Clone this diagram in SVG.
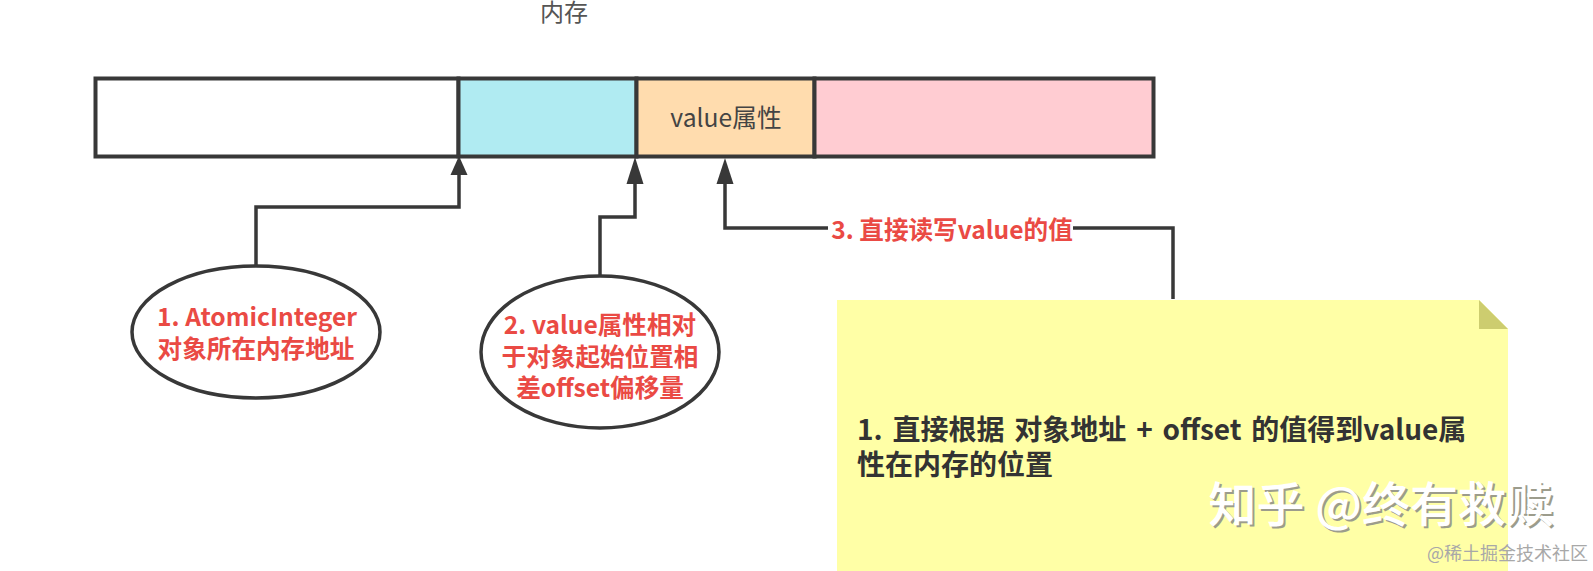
<svg xmlns="http://www.w3.org/2000/svg" width="1593" height="571" viewBox="0 0 1593 571">
<style>
text{font-family:"Noto Sans CJK SC","Noto Sans",sans-serif}
.seg{stroke:#383838;stroke-width:4}
.conn{fill:none;stroke:#383838;stroke-width:3.5}
.head{fill:#383838}
.ell{fill:#fff;stroke:#383838;stroke-width:3.5}
.red{fill:#ea4a44;font-weight:700;font-size:24.600px;text-anchor:middle}
.note{fill:#333;font-weight:700;font-size:28px;word-spacing:3.500px}
</style>
<rect width="1593" height="571" fill="#fff"/>
<g id="memory-label"><text x="564" y="21" font-size="24" fill="#555" text-anchor="middle">内存</text></g>
<g id="cell-1"><rect class="seg" x="95.500" y="78.500" width="363" height="78" fill="#fff"/></g>
<g id="cell-2"><rect class="seg" x="458.500" y="78.500" width="178" height="78" fill="#b0ebf2"/></g>
<g id="cell-3"><rect class="seg" x="636.500" y="78.500" width="178" height="78" fill="#ffdcae"/><text x="726" y="127" font-size="24.700" fill="#444" text-anchor="middle">value属性</text></g>
<g id="cell-4"><rect class="seg" x="814.500" y="78.500" width="339" height="78" fill="#ffccd2"/></g>
<g id="connectors">
<path class="conn" d="M256 266V207H459V170"/><polygon class="head" points="459,156 467.500,175 450.500,175"/>
<path class="conn" d="M600 276V217H635V180"/><polygon class="head" points="635,157 643.500,184 626.500,184"/>
<path class="conn" d="M725 180V228H828"/><polygon class="head" points="725,158 733.500,184 716.500,184"/>
<path class="conn" d="M1073 228H1173V299"/>
<text class="red" x="952" y="239">3. 直接读写value的值</text>
</g>
<g id="ellipse-1"><ellipse class="ell" cx="256" cy="332" rx="124" ry="66"/><text class="red" x="257" y="326">1. AtomicInteger</text><text class="red" x="256" y="358">对象所在内存地址</text></g>
<g id="ellipse-2"><ellipse class="ell" cx="600" cy="352" rx="119" ry="76"/><text class="red" x="600" y="334">2. value属性相对</text><text class="red" x="600" y="366">于对象起始位置相</text><text class="red" x="600" y="397">差offset偏移量</text></g>
<g id="note"><path d="M837 300H1479L1508 329V571H837Z" fill="#ffffa6"/><path d="M1479 300L1508 329H1479Z" fill="#cdcd6f"/>
<text class="note" x="857" y="440">1. 直接根据 对象地址 + offset 的值得到value属</text><text class="note" x="857" y="475">性在内存的位置</text></g>
<g id="watermarks">
<text x="1210.500" y="524" font-size="48" font-weight="500" fill="#9c9c8c">知乎 @终有救赎</text>
<text x="1208.500" y="522" font-size="48" font-weight="500" fill="#fff">知乎 @终有救赎</text>
<text x="1427" y="560" font-size="18" fill="#a8a8a8">@稀土掘金技术社区</text>
</g>
</svg>
